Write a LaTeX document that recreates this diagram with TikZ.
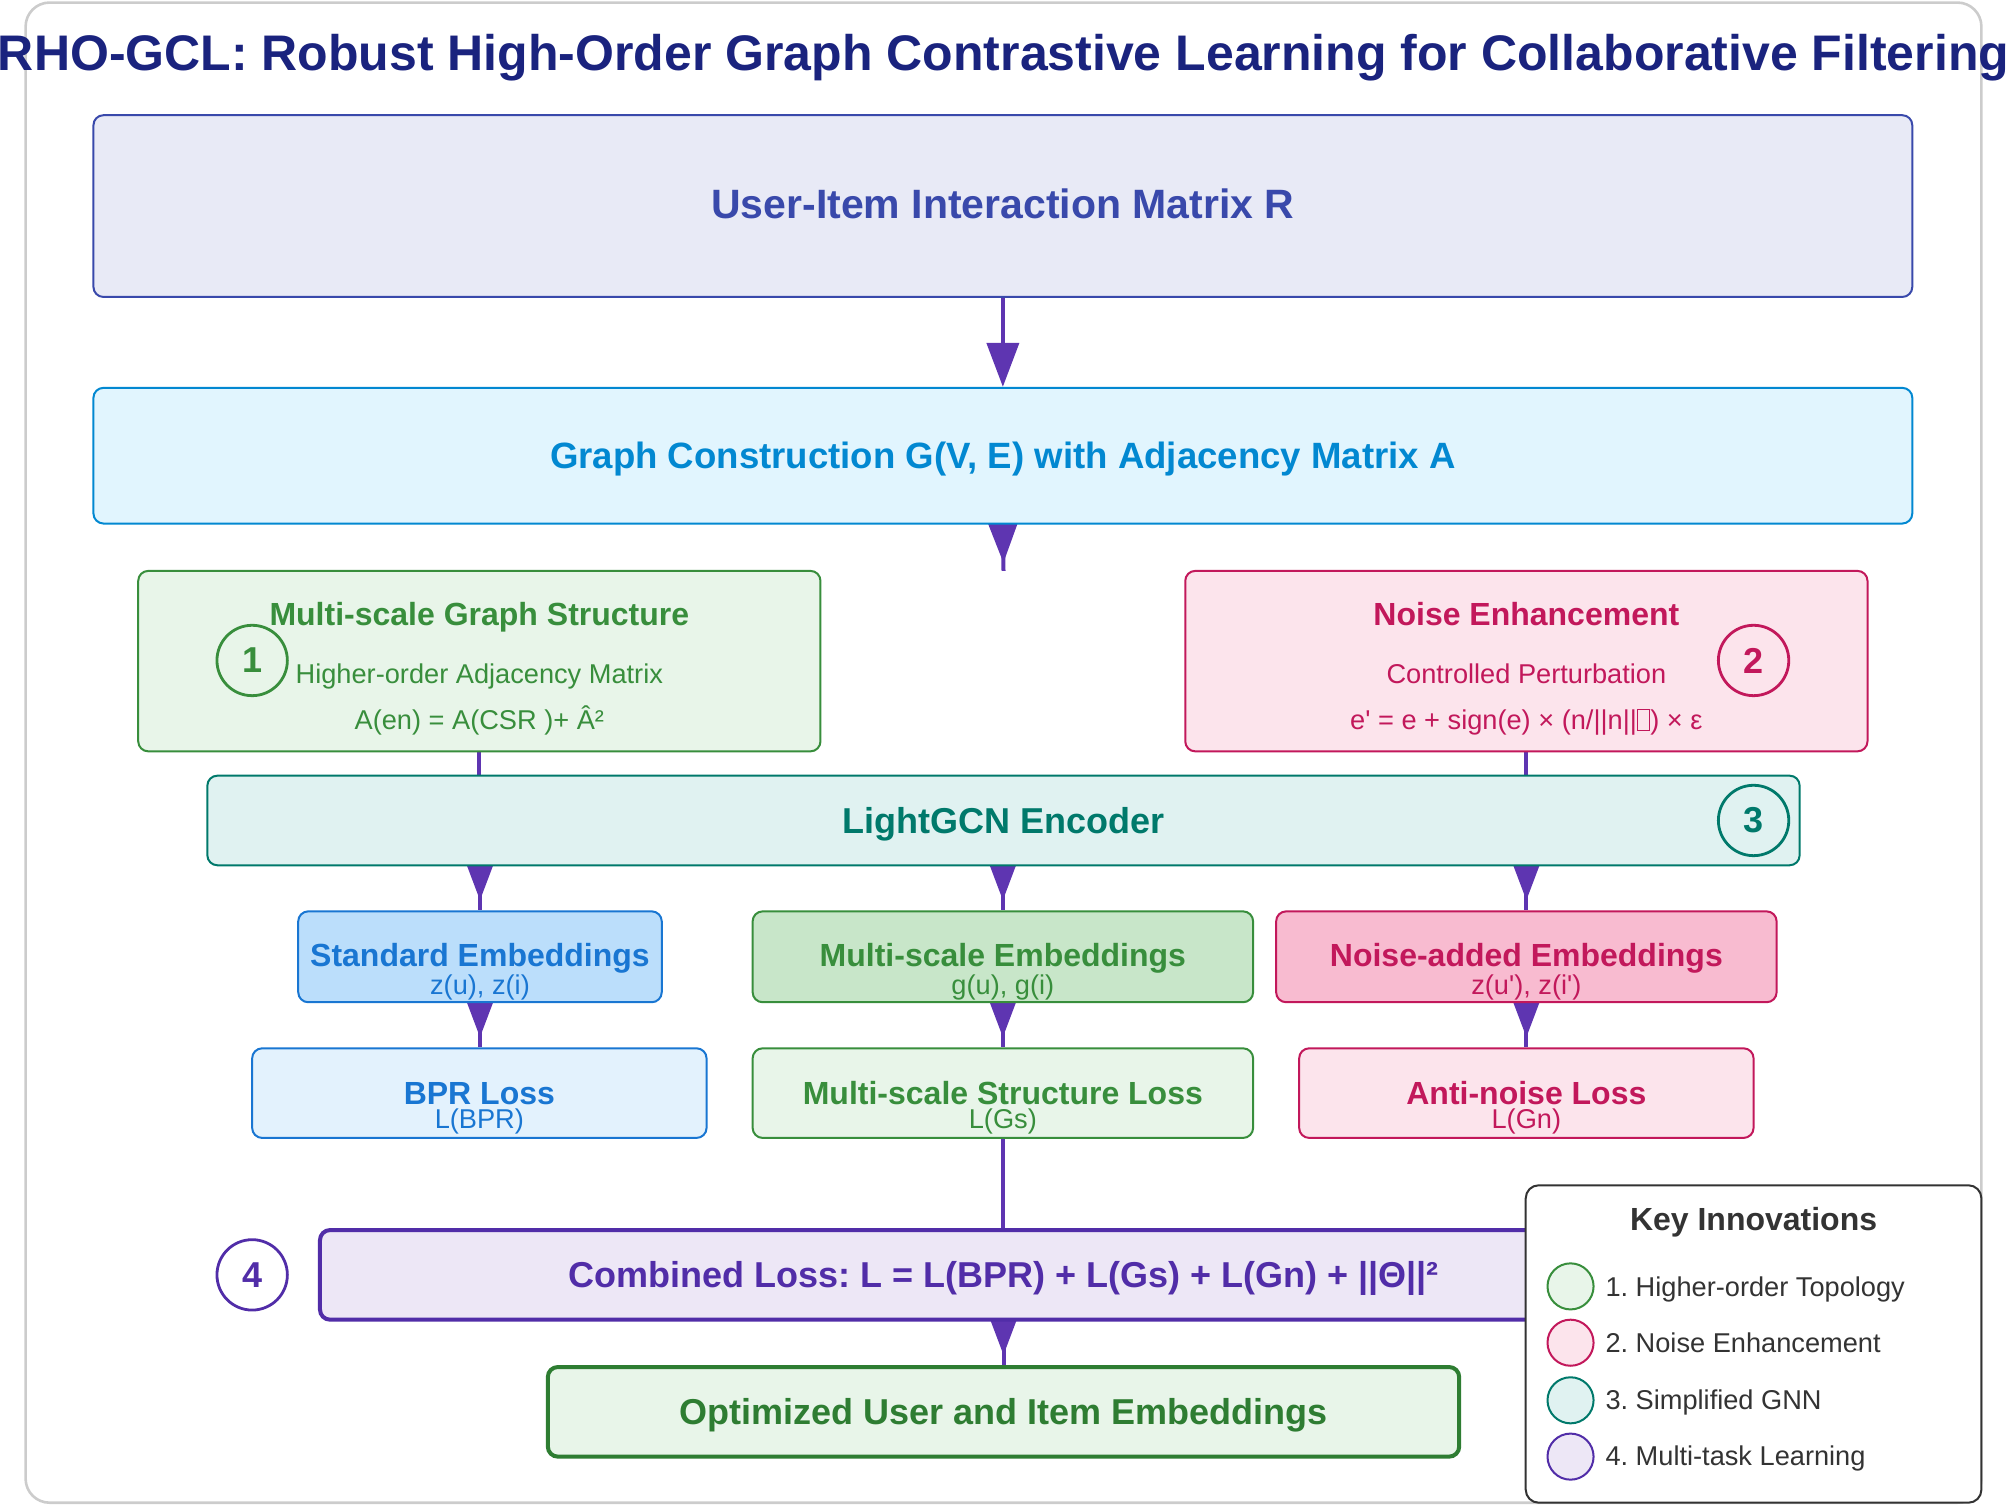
\documentclass[tikz,border=0pt]{standalone}
\usepackage{fontspec}
\setmainfont{Liberation Sans}
\usetikzlibrary{arrows.meta,decorations.markings,backgrounds}
\definecolor{titlec}{HTML}{1A237E}
\definecolor{indF}{HTML}{E8EAF6}\definecolor{indS}{HTML}{3949AB}
\definecolor{blF}{HTML}{E1F5FE}\definecolor{blS}{HTML}{0288D1}
\definecolor{grF}{HTML}{E8F5E9}\definecolor{grS}{HTML}{388E3C}
\definecolor{pkF}{HTML}{FCE4EC}\definecolor{pkS}{HTML}{C2185B}
\definecolor{tlF}{HTML}{E0F2F1}\definecolor{tlS}{HTML}{00796B}
\definecolor{sbF}{HTML}{BBDEFB}\definecolor{sbS}{HTML}{1976D2}
\definecolor{sgF}{HTML}{C8E6C9}
\definecolor{spF}{HTML}{F8BBD0}
\definecolor{bpF}{HTML}{E3F2FD}
\definecolor{puF}{HTML}{EDE7F6}\definecolor{puS}{HTML}{512DA8}
\definecolor{dgS}{HTML}{2E7D32}
\definecolor{connc}{HTML}{5E35B1}
\definecolor{framec}{HTML}{CCCCCC}
\definecolor{legS}{HTML}{333333}
\newcommand\tofubox{{\fboxsep=0pt\fboxrule=0.5pt\fbox{\rule{0pt}{0.72em}\hspace{0.42em}}}}
\frenchspacing
\begin{document}
\begin{tikzpicture}[x=0.64pt,y=-0.64pt,
  box/.style={draw, rounded corners=5pt, line width=1pt, inner sep=0pt},
  sz/.style 2 args={minimum width={#1*0.64pt}, minimum height={#2*0.64pt}},
  ttl/.style={font=\fontsize{25}{30}\selectfont\bfseries, anchor=base, inner sep=0pt, text=titlec},
  big/.style={font=\fontsize{18}{21}\selectfont\bfseries, anchor=base, inner sep=0pt},
  mid/.style={font=\fontsize{16}{19}\selectfont\bfseries, anchor=base, inner sep=0pt},
  small/.style={font=\fontsize{13.6}{16}\selectfont, anchor=base, inner sep=0pt},
  numc/.style={circle, draw, line width=1.4pt, minimum size={55*0.64pt}, inner sep=0pt, font=\fontsize{18}{21}\selectfont\bfseries},
  legc/.style={circle, draw, line width=1pt, minimum size={36*0.64pt}, inner sep=0pt},
  conn/.style={draw=connc, color=connc, line width=2pt},
  tipat/.style={postaction={decorate}, decoration={markings, mark=at position #1 with {\arrow[connc]{Triangle[length=22pt,width=16pt]}}}},
]
\useasboundingbox (0,0) rectangle (1568,1176);
% outer frame
\draw[framec, line width=1.3pt, rounded corners=12pt] (20,2) rectangle (1548,1174);
% title
\node[ttl] (title) at (784,55) {RHO-GCL: Robust High-Order Graph Contrastive Learning for Collaborative Filtering};

% top boxes
\node[box, sz={1421}{142}, fill=indF, draw=indS] (uim) at (783.5,161) {};
\node[big, text=indS, font=\fontsize{20.5}{24}\selectfont\bfseries] (uimt) at (783.5,171) {User-Item Interaction Matrix R};
\node[box, sz={1421}{106}, fill=blF, draw=blS] (gc) at (783.5,356) {};
\node[big, text=blS, font=\fontsize{18.3}{22}\selectfont\bfseries] (gct) at (783.5,366) {Graph Construction G(V, E) with Adjacency Matrix A};
\coordinate (gcend) at (784,446);

% multi-scale graph structure
\node[box, sz={533}{141}, fill=grF, draw=grS] (msg) at (374.5,516.5) {};
\node[mid, text=grS] (msgt) at (374.5,489) {Multi-scale Graph Structure};
\node[small, text=grS] (msgs) at (374.5,534) {Higher-order Adjacency Matrix};
\node[small, text=grS] (msgf) at (374.5,570) {A(en) = A(CSR )+ Â²};
\node[numc, draw=grS, text=grS] (n1) at (197,516) {1};

% noise enhancement
\node[box, sz={533}{141}, fill=pkF, draw=pkS] (nz) at (1192.5,516.5) {};
\node[mid, text=pkS] (nzt) at (1192.5,489) {Noise Enhancement};
\node[small, text=pkS] (nzs) at (1192.5,534) {Controlled Perturbation};
\node[small, text=pkS] (nzf) at (1192.5,570) {e\textquotesingle{} = e + sign(e) × (n/||n||\tofubox) × ε};
\node[numc, draw=pkS, text=pkS] (n2) at (1370,516) {2};

% LightGCN
\node[box, sz={1244}{70}, fill=tlF, draw=tlS] (lg) at (784,641) {};
\node[big, text=tlS] (lgt) at (784,651) {LightGCN Encoder};
\node[numc, draw=tlS, text=tlS] (n3) at (1370,641) {3};

% embeddings
\node[box, sz={284}{71}, fill=sbF, draw=sbS] (se) at (375,747.5) {};
\node[mid, text=sbS] (set) at (375,755) {Standard Embeddings};
\node[small, text=sbS] (ses) at (375,777) {z(u), z(i)};
\node[box, sz={391}{71}, fill=sgF, draw=grS] (me) at (783.5,747.5) {};
\node[mid, text=grS] (met) at (783.5,755) {Multi-scale Embeddings};
\node[small, text=grS] (mes) at (783.5,777) {g(u), g(i)};
\node[box, sz={391}{71}, fill=spF, draw=pkS] (ne) at (1192.5,747.5) {};
\node[mid, text=pkS] (net) at (1192.5,755) {Noise-added Embeddings};
\node[small, text=pkS] (nes) at (1192.5,777) {z(u\textquotesingle), z(i\textquotesingle)};

% losses
\node[box, sz={355}{70}, fill=bpF, draw=sbS] (bl) at (374.5,854) {};
\node[mid, text=sbS] (blt) at (374.5,863) {BPR Loss};
\node[small, text=sbS] (bls) at (374.5,882) {L(BPR)};
\node[box, sz={391}{70}, fill=grF, draw=grS] (ml) at (783.5,854) {};
\node[mid, text=grS] (mlt) at (783.5,863) {Multi-scale Structure Loss};
\node[small, text=grS] (mls) at (783.5,882) {L(Gs)};
\node[box, sz={355}{70}, fill=pkF, draw=pkS] (al) at (1192.5,854) {};
\node[mid, text=pkS] (alt) at (1192.5,863) {Anti-noise Loss};
\node[small, text=pkS] (als) at (1192.5,882) {L(Gn)};

% combined
\node[box, sz={1068}{70}, fill=puF, draw=puS, line width=2pt] (cb) at (784,996) {};
\node[big, text=puS] (cbt) at (784,1006) {Combined Loss: L = L(BPR) + L(Gs) + L(Gn) + ||Θ||²};
\node[numc, draw=puS, text=puS] (n4) at (197,996) {4};

% final
\node[box, sz={712}{70}, fill=grF, draw=dgS, line width=2pt] (fe) at (784,1103) {};
\node[big, text=dgS] (fet) at (784,1113) {Optimized User and Item Embeddings};

% legend
\node[draw=legS, fill=white, line width=1pt, rounded corners=6.5pt, sz={356}{248}, inner sep=0pt] (leg) at (1370,1050) {};
\node[mid, text=legS] (legt) at (1370,961) {Key Innovations};
\node[legc, draw=grS, fill=grF] (l1) at (1227,1005) {};
\node[legc, draw=pkS, fill=pkF] (l2) at (1227,1049) {};
\node[legc, draw=tlS, fill=tlF] (l3) at (1227,1094) {};
\node[legc, draw=puS, fill=puF] (l4) at (1227,1138) {};
\node[small, text=legS, anchor=base west] (l1t) at (1254,1013) {1. Higher-order Topology};
\node[small, text=legS, anchor=base west] (l2t) at (1254,1057) {2. Noise Enhancement};
\node[small, text=legS, anchor=base west] (l3t) at (1254,1101) {3. Simplified GNN};
\node[small, text=legS, anchor=base west] (l4t) at (1254,1145) {4. Multi-task Learning};

% connectors
\begin{pgfonlayer}{background}
\draw[conn, -{Triangle[length=22pt,width=16pt]}] (uim.south) -- (gc.north);
\draw[conn, tipat=-4pt] (gc.south) -- (gcend);
\draw[conn] (msg.south) -- (msg.south |- lg.north);
\draw[conn] (nz.south) -- (nz.south |- lg.north);
\draw[conn, tipat=-5pt] (se.north |- lg.south) -- (se.north);
\draw[conn, tipat=-5pt] (me.north |- lg.south) -- (me.north);
\draw[conn, tipat=-5pt] (ne.north |- lg.south) -- (ne.north);
\draw[conn, tipat=-5pt] (se.south) -- (se.south |- bl.north);
\draw[conn, tipat=-5pt] (me.south) -- (ml.north);
\draw[conn, tipat=-5pt] (ne.south) -- (ne.south |- al.north);
\draw[conn] (ml.south) -- (ml.south |- cb.north);
\draw[conn, tipat=-5pt] (cb.south) -- (fe.north);
\end{pgfonlayer}
\end{tikzpicture}
\end{document}
